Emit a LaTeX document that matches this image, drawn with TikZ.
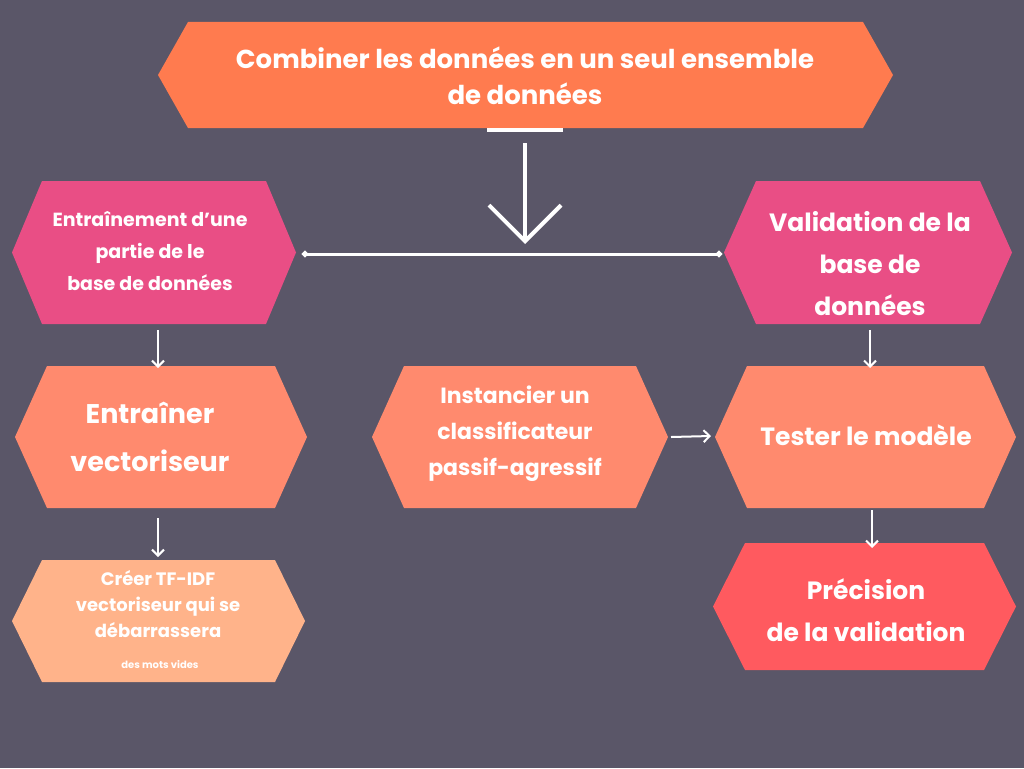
\documentclass[tikz,border=0pt]{standalone}
\usepackage{fontspec}
\setmainfont{Poppins}
\usetikzlibrary{arrows.meta}
\definecolor{bg}{HTML}{5A5668}
\definecolor{corange}{HTML}{FF7B4F}
\definecolor{cpink}{HTML}{E94E85}
\definecolor{csalmon}{HTML}{FF8A6E}
\definecolor{cpeach}{HTML}{FFB38A}
\definecolor{cred}{HTML}{FF5A5F}
\newcommand{\hexa}[7]{%
  \fill[#7] (#1,{(#2+#4)/2}) -- (#1+#6,#2) -- (#3-#6,#2) -- (#3,{(#2+#4)/2}) -- (#3-#6,#4) -- (#1+#6,#4) -- cycle;
  \node[txt] (#5) at ({(#1+#3)/2},{(#2+#4)/2}) {};}
\tikzset{txt/.style={text=white,font=\bfseries,align=center,inner sep=0pt},
  conn/.style={draw=white,line width=2pt,-{Straight Barb[length=6pt,width=12pt]}}}
\begin{document}
\begin{tikzpicture}[x=1pt,y=-1pt]
\useasboundingbox (0,0) rectangle (1024,768);
\fill[bg] (0,0) rectangle (1024,768);
\hexa{158}{22}{893}{128}{top}{30}{corange}
\hexa{12}{181}{296}{324}{l1}{30}{cpink}
\hexa{724}{181}{1012}{324}{r1}{32}{cpink}
\hexa{15}{366}{307}{508}{l2}{32}{csalmon}
\hexa{372}{366}{668}{508}{m}{32}{csalmon}
\hexa{715}{366}{1016}{508}{r2}{32}{csalmon}
\hexa{12}{560}{305}{682}{l3}{30}{cpeach}
\hexa{713}{543}{1016}{670}{r3}{32}{cred}
\node[txt,font=\bfseries\fontsize{26}{36}\selectfont] at (525,76) {Combiner les données en un seul ensemble\\de données};
\node[txt,font=\bfseries\fontsize{19}{32}\selectfont] at (150,251) {Entraînement d'une\\partie de le\\base de données};
\node[txt,font=\bfseries\fontsize{25}{42}\selectfont] at (870,264) {Validation de la\\base de\\données};
\node[txt,font=\bfseries\fontsize{27}{48}\selectfont] at (150,437) {Entraîner\\vectoriseur};
\node[txt,font=\bfseries\fontsize{22}{36}\selectfont] at (515,434) {Instancier un\\classificateur\\passif-agressif};
\node[txt,font=\bfseries\fontsize{25}{36}\selectfont] at (866,435) {Tester le modèle};
\node[txt,font=\bfseries\fontsize{25}{42}\selectfont] at (866,610) {Précision\\de la validation};
\node[txt,font=\bfseries\fontsize{18}{26}\selectfont] at (158,604) {Créer TF-IDF\\vectoriseur qui se\\débarrassera};
\node[txt,font=\bfseries\fontsize{10}{12}\selectfont] at (160,665) {des mots vides};
% top connector
\coordinate (bar1) at (487,130); \coordinate (bar2) at (563,130);
\draw[white,line width=4pt] (bar1) -- (bar2);
\coordinate (vs) at (525,143); \coordinate (ve) at (525,244);
\draw[white,line width=4pt,-{Straight Barb[length=36pt,width=72pt,line width=4pt]}] (vs) -- (ve);
\coordinate (hl) at (302,254); \coordinate (hr) at (722,254);
\draw[white,line width=3pt,{Circle[length=6pt]}-{Circle[length=6pt]}] (hl) -- (hr);
\coordinate (a1) at (158,330); \coordinate (a2) at (158,368);
\draw[conn] (a1) -- (a2);
\coordinate (b1) at (158,518); \coordinate (b2) at (158,557);
\draw[conn] (b1) -- (b2);
\coordinate (c1) at (870,330); \coordinate (c2) at (870,368);
\draw[conn] (c1) -- (c2);
\coordinate (d1) at (872,510); \coordinate (d2) at (872,548);
\draw[conn] (d1) -- (d2);
\coordinate (e1) at (671,437); \coordinate (e2) at (711,436);
\draw[conn] (e1) -- (e2);
\end{tikzpicture}
\end{document}
